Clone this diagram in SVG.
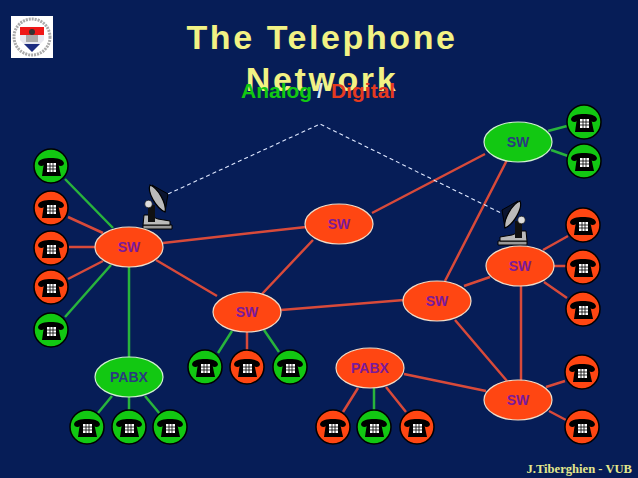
<svg xmlns="http://www.w3.org/2000/svg" width="638" height="478" viewBox="0 0 638 478">
<style>
text{font-family:"Liberation Sans",Arial,sans-serif}
.title{font-size:34px;font-weight:bold;fill:#f2f284;text-anchor:middle;letter-spacing:2.6px}
.sub{font-size:21px;font-weight:bold}
.lbl{font-size:14px;font-weight:bold;text-anchor:middle}
.r{fill:#ff4612;stroke:#efdcc8;stroke-width:1.2}
.g{fill:#12c812;stroke:#d0f0d0;stroke-width:1.2}
.tr{fill:#7a1a9a}
.tg{fill:#2a3a80}
.lr{stroke:#d84a3a;stroke-width:2.5;fill:none}
.lg{stroke:#28b43c;stroke-width:2.5;fill:none}
.pr{fill:#ff4612;stroke:#000;stroke-width:1.5}
.pg{fill:#12c812;stroke:#000;stroke-width:1.5}
</style>
<defs>
<g id="ph">
<path d="M-13-3C-12-7-6-8 0-8S12-7 13-3C13 0 9 1 7-1L6-3H-6L-7-1C-9 1-13 0-13-3Z" fill="#000"/>
<path d="M-7-4H7L10 10H-9Z" fill="#000"/>
<path d="M-4-3H5V6H-4Z" fill="#fff"/>
<path d="M-1-3V6M2-3V6M-4 0H5M-4 3H5" stroke="#000" stroke-width=".8" fill="none"/>
</g>
<g id="dish">
<path d="M-7 25H22V29H-7Z" fill="#999" stroke="#000"/>
<path d="M-6 15H-2L8 19 20 21V25H-7Z" fill="#bbb" stroke="#000"/>
<path d="M-2 5H5V22H-2Z" fill="#111"/>
<circle cx="-1.500" cy="4" r="3.800" fill="#ddd" stroke="#000" stroke-width=".6"/>
<path d="M2-15L18-6 15 12Z" fill="#0a1430" stroke="#000"/>
<path d="M0-15C-3-8 6 8 15 12 17 4 8-12 0-15Z" fill="#bbb" stroke="#000" stroke-width="1.200"/>
</g>
</defs>
<rect width="638" height="478" fill="#061d57"/>
<g id="logo">
<rect x="11" y="16" width="42" height="42" fill="#fff"/>
<circle cx="32" cy="37" r="18" fill="none" stroke="#aaa" stroke-width="3" stroke-dasharray="2 1"/>
<path d="M20 27H44V35H20Z" fill="#f01818"/>
<path d="M20 35H44V40L32 52 20 40Z" fill="#e8e8f0"/>
<path d="M24 44H40L32 52Z" fill="#1c2c80"/>
<circle cx="32" cy="32" r="3" fill="#333"/>
<path d="M26 35H38V42H26Z" fill="#aaa"/>
</g>
<g id="title">
<text class="title" x="322" y="49">The Telephone</text>
<text class="title" x="322" y="91">Network</text>
<text class="sub" x="241" y="98" fill="#12c812">Analog</text>
<text class="sub" x="317" y="98" fill="#d8e8f8">/</text>
<text class="sub" x="331" y="98" fill="#e63a20">Digital</text>
</g>
<g id="connectors">
<path class="lg" d="M65 179L113 228M65 317L111 265M129 267V358"/>
<path class="lr" d="M68 217L103 233M69 247H97M68 279L103 261"/>
<path class="lr" d="M163 243L306 227M156 260L217 296M313 240L262 294M281 310L404 300M372 213L485 154M507 160L445 281M464 286L490 277M455 320L507 381M521 286V381M404 374L486 391"/>
<path class="lg" d="M548 131L567 126M551 150L568 156"/>
<path class="lr" d="M543 250L568 236M554 266H566M544 282L567 298M546 387L565 381M549 411L566 420"/>
<path class="lg" d="M112 396L98 413M129 397V411M145 396L160 414M232 331L218 353M264 330L279 352"/>
<path class="lr" d="M247 332V350M358 388L343 412M386 387L406 412"/>
<path class="lg" d="M374 388V410"/>
<path d="M168 194L320 124 501 213" fill="none" stroke="#dfe8ff" stroke-width="1.100" stroke-dasharray="4 3"/>
</g>
<g id="dish-left"><use href="#dish" x="150" y="200"/></g>
<g id="dish-right"><use href="#dish" transform="translate(520,216) scale(-1,1)"/></g>
<g id="sw1"><ellipse class="r" cx="129" cy="247" rx="34" ry="20"/><text class="lbl tr" x="129" y="252">SW</text></g>
<g id="sw2"><ellipse class="r" cx="339" cy="224" rx="34" ry="20"/><text class="lbl tr" x="339" y="229">SW</text></g>
<g id="sw3"><ellipse class="r" cx="247" cy="312" rx="34" ry="20"/><text class="lbl tr" x="247" y="317">SW</text></g>
<g id="sw4"><ellipse class="r" cx="437" cy="301" rx="34" ry="20"/><text class="lbl tr" x="437" y="306">SW</text></g>
<g id="sw5"><ellipse class="r" cx="520" cy="266" rx="34" ry="20"/><text class="lbl tr" x="520" y="271">SW</text></g>
<g id="sw6"><ellipse class="g" cx="518" cy="142" rx="34" ry="20"/><text class="lbl tg" x="518" y="147">SW</text></g>
<g id="sw7"><ellipse class="r" cx="518" cy="400" rx="34" ry="20"/><text class="lbl tr" x="518" y="405">SW</text></g>
<g id="pabx1"><ellipse class="g" cx="129" cy="377" rx="34" ry="20"/><text class="lbl tg" x="129" y="382">PABX</text></g>
<g id="pabx2"><ellipse class="r" cx="370" cy="368" rx="34" ry="20"/><text class="lbl tr" x="370" y="373">PABX</text></g>
<g id="phones">
<g id="p1"><circle class="pg" cx="51" cy="166" r="17"/><use href="#ph" x="51" y="166"/></g>
<g id="p2"><circle class="pr" cx="51" cy="208" r="17"/><use href="#ph" x="51" y="208"/></g>
<g id="p3"><circle class="pr" cx="51" cy="248" r="17"/><use href="#ph" x="51" y="248"/></g>
<g id="p4"><circle class="pr" cx="51" cy="287" r="17"/><use href="#ph" x="51" y="287"/></g>
<g id="p5"><circle class="pg" cx="51" cy="330" r="17"/><use href="#ph" x="51" y="330"/></g>
<g id="p6"><circle class="pg" cx="584" cy="122" r="17"/><use href="#ph" x="584" y="122"/></g>
<g id="p7"><circle class="pg" cx="584" cy="161" r="17"/><use href="#ph" x="584" y="161"/></g>
<g id="p8"><circle class="pr" cx="583" cy="225" r="17"/><use href="#ph" x="583" y="225"/></g>
<g id="p9"><circle class="pr" cx="583" cy="267" r="17"/><use href="#ph" x="583" y="267"/></g>
<g id="p10"><circle class="pr" cx="583" cy="309" r="17"/><use href="#ph" x="583" y="309"/></g>
<g id="p11"><circle class="pr" cx="582" cy="372" r="17"/><use href="#ph" x="582" y="372"/></g>
<g id="p12"><circle class="pr" cx="582" cy="427" r="17"/><use href="#ph" x="582" y="427"/></g>
<g id="p13"><circle class="pg" cx="87" cy="427" r="17"/><use href="#ph" x="87" y="427"/></g>
<g id="p14"><circle class="pg" cx="129" cy="427" r="17"/><use href="#ph" x="129" y="427"/></g>
<g id="p15"><circle class="pg" cx="170" cy="427" r="17"/><use href="#ph" x="170" y="427"/></g>
<g id="p16"><circle class="pg" cx="205" cy="367" r="17"/><use href="#ph" x="205" y="367"/></g>
<g id="p17"><circle class="pr" cx="247" cy="367" r="17"/><use href="#ph" x="247" y="367"/></g>
<g id="p18"><circle class="pg" cx="290" cy="367" r="17"/><use href="#ph" x="290" y="367"/></g>
<g id="p19"><circle class="pr" cx="333" cy="427" r="17"/><use href="#ph" x="333" y="427"/></g>
<g id="p20"><circle class="pg" cx="374" cy="427" r="17"/><use href="#ph" x="374" y="427"/></g>
<g id="p21"><circle class="pr" cx="417" cy="427" r="17"/><use href="#ph" x="417" y="427"/></g>
</g>
<text x="632" y="473" text-anchor="end" style="font-family:'Liberation Serif',serif;font-weight:bold;font-size:12.6px" fill="#e4e88c">J.Tiberghien - VUB</text>
</svg>
